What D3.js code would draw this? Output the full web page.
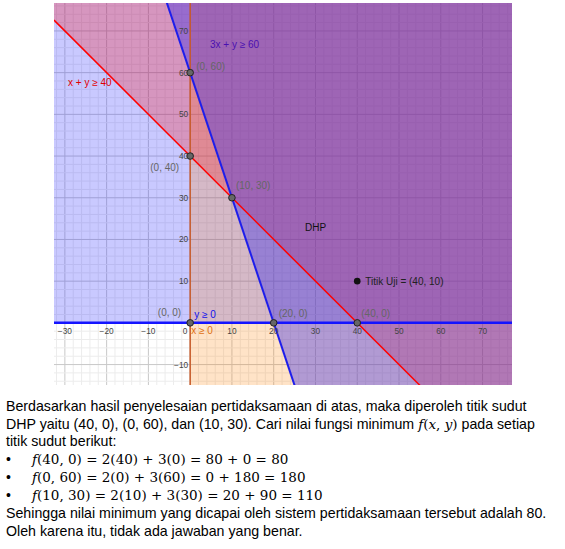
<!DOCTYPE html><html><head><meta charset="utf-8"><script src="https://cdn.jsdelivr.net/npm/d3@7"></script>
<style>body{margin:0;background:#fff}svg{display:block}</style></head><body><script>
const xDomain=[-32.6,77.05], yDomain=[-14.9,76.7];
const constraints=[ // a*x+b*y>=c
 {name:"y ≥ 0",a:0,b:1,c:0,fill:"rgb(40,40,255)",op:0.25,stroke:"rgb(20,20,255)",sw:2.5},
 {name:"x ≥ 0",a:1,b:0,c:0,fill:"rgb(255,128,0)",op:0.22,stroke:"rgb(200,90,40)",sw:1.5},
 {name:"x + y ≥ 40",a:1,b:1,c:40,fill:"rgb(255,0,0)",op:0.25,stroke:"rgb(255,0,0)",sw:1.5},
 {name:"3x + y ≥ 60",a:3,b:1,c:60,fill:"rgb(60,45,230)",op:0.4,stroke:"rgb(30,30,235)",sw:2}
];
const points=[[0,60],[0,40],[10,30],[0,0],[20,0],[40,0]];
const pointLabels=["(0, 60)","(0, 40)","(10, 30)","(0, 0)","(20, 0)","(40, 0)"];
const testPoint=[40,10], testLabel="Titik Uji = (40, 10)";
const xTicks=[-30,-20,-10,0,10,20,30,40,50,60,70], yTicks=[-10,10,20,30,40,50,60,70];
const textLines=[
 [["Berdasarkan hasil penyelesaian pertidaksamaan di atas, maka diperoleh titik sudut",0]],
 [["DHP yaitu (40, 0), (0, 60), dan (10, 30). Cari nilai fungsi minimum ",0],["f",1],["(",2],["x",1],[", ",2],["y",1],[")",2],[" pada setiap",0]],
 [["titik sudut berikut:",0]],
 [["f",1],["(40, 0) = 2(40) + 3(0) = 80 + 0 = 80",2]],
 [["f",1],["(0, 60) = 2(0) + 3(60) = 0 + 180 = 180",2]],
 [["f",1],["(10, 30) = 2(10) + 3(30) = 20 + 90 = 110",2]],
 [["Sehingga nilai minimum yang dicapai oleh sistem pertidaksamaan tersebut adalah 80.",0]],
 [["Oleh karena itu, tidak ada jawaban yang benar.",0]]
];
const W=565,H=549, L=54,R=512,T=3,B=385;
const svg=d3.select("body").append("svg").attr("width",W).attr("height",H);
const x=d3.scaleLinear().domain(xDomain).range([L,R]);
const y=d3.scaleLinear().domain(yDomain).range([B,T]);
svg.append("clipPath").attr("id","c").append("rect").attr("x",L).attr("y",T).attr("width",R-L).attr("height",B-T);
const g=svg.append("g").attr("clip-path","url(#c)");
d3.range(-32,78,2).forEach(v=>{g.append("line").attr("x1",x(v)).attr("x2",x(v)).attr("y1",T).attr("y2",B).attr("stroke",v%10==0?"#c8c8c8":"#ececec").attr("stroke-width",1);});
d3.range(-14,78,2).forEach(v=>{g.append("line").attr("y1",y(v)).attr("y2",y(v)).attr("x1",L).attr("x2",R).attr("stroke",v%10==0?"#c8c8c8":"#ececec").attr("stroke-width",1);});
function clip(poly,a,b,c){const out=[];for(let i=0;i<poly.length;i++){const p=poly[i],q=poly[(i+1)%poly.length];const fp=a*p[0]+b*p[1]-c,fq=a*q[0]+b*q[1]-c;if(fp>=0)out.push(p);if(fp*fq<0){const t=fp/(fp-fq);out.push([p[0]+t*(q[0]-p[0]),p[1]+t*(q[1]-p[1])]);}}return out;}
const rect=[[xDomain[0],yDomain[0]],[xDomain[1],yDomain[0]],[xDomain[1],yDomain[1]],[xDomain[0],yDomain[1]]];
const line=d3.line().x(d=>x(d[0])).y(d=>y(d[1]));
constraints.forEach(k=>{g.append("path").attr("d",line(clip(rect,k.a,k.b,k.c))+"Z").attr("fill",k.fill).attr("fill-opacity",k.op);});
const tf="Liberation Sans, Arial, sans-serif";
xTicks.forEach(v=>{svg.append("text").attr("x",x(v)+(v==0?-5:0)).attr("y",y(0)+11).attr("text-anchor","middle").attr("font-family",tf).attr("font-size",8.3).attr("fill","#444").text(v==0?"0":(v<0?"−"+(-v):v));});
yTicks.forEach(v=>{svg.append("text").attr("x",x(0)-2).attr("y",y(v)+3).attr("text-anchor","end").attr("font-family",tf).attr("font-size",8.3).attr("fill","#444").text(v<0?"−"+(-v):v);});
const ext=(k)=>{if(k.b==0)return [[k.c/k.a,yDomain[0]],[k.c/k.a,yDomain[1]]];return [[xDomain[0],(k.c-k.a*xDomain[0])/k.b],[xDomain[1],(k.c-k.a*xDomain[1])/k.b]];};
[1,0,2,3].forEach(i=>{const k=constraints[i];g.append("path").attr("d",line(ext(k))).attr("stroke",k.stroke).attr("stroke-width",k.sw).attr("fill","none");});
points.forEach(p=>{g.append("circle").attr("cx",x(p[0])).attr("cy",y(p[1])).attr("r",3.3).attr("fill","#666").attr("stroke","#222").attr("stroke-width",1);});
const lab=(t,px,py,col,anchor)=>svg.append("text").attr("x",px).attr("y",py).attr("font-family",tf).attr("font-size",10).attr("fill",col).attr("text-anchor",anchor||"start").text(t);
const offs=[[6,-3,"start"],[-11,15,"end"],[4,-9,"start"],[-9,-7,"end"],[5,-6,"start"],[4,-6,"start"]];
points.forEach((p,i)=>lab(pointLabels[i],x(p[0])+offs[i][0],y(p[1])+offs[i][1],"#666",offs[i][2]));
svg.append("circle").attr("cx",x(testPoint[0])).attr("cy",y(testPoint[1])).attr("r",3.3).attr("fill","#111");
lab(testLabel,x(testPoint[0])+8,y(testPoint[1])+4,"#222");
lab("DHP",305,231,"#111");
lab("3x + y ≥ 60",210,48,"#4a10b0");
lab("x + y ≥ 40",68,86,"#e00000");
lab("y ≥ 0",x(0)+4,y(0)-5,"#1010ee");
lab("x ≥ 0",x(0)+1,y(0)+11,"#e07010");
const ys=[411,429,446,464,482,500,518,536];
textLines.forEach((parts,i)=>{const bullet=i>=3&&i<=5;const t=svg.append("text").attr("x",bullet?32:6).attr("y",ys[i]).attr("font-family","Liberation Sans, Arial, sans-serif").attr("font-size",14.2).attr("fill","#000");
 if(bullet)svg.append("text").attr("x",6).attr("y",ys[i]).attr("font-size",14).attr("font-family",tf).text("•");
 parts.forEach(p=>{const s=t.append("tspan").text(p[0]);if(p[1]>0){s.attr("font-family","DejaVu Serif, serif").attr("font-size",13.5);if(p[1]==1)s.attr("font-style","italic");}});});
</script></body></html>
